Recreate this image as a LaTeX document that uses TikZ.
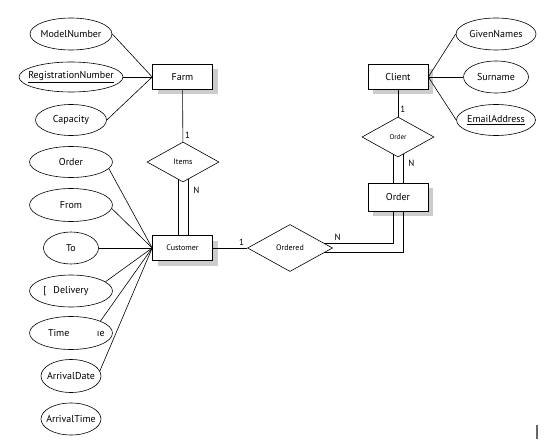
\documentclass[tikz,border=0pt]{standalone}
\usepackage{fontspec}
\setmainfont{PT Sans}
\usetikzlibrary{shapes.geometric,shadows,calc}

\newcommand{\attrtext}[1]{\makebox[0pt]{#1}}

\begin{document}
\begin{tikzpicture}[x=1pt,y=-1pt,line width=0.6pt]
\tikzstyle{every node}+=[inner sep=0pt]
\tikzstyle{entity}=[draw, fill=white, minimum width=60pt, minimum height=25pt, font=\fontsize{10}{12}\selectfont, drop shadow={shadow xshift=5pt, shadow yshift=-5pt, fill=black!40}]
\tikzstyle{attr}=[draw, ellipse, minimum height=32pt, font=\fontsize{10}{12}\selectfont]
\tikzstyle{rel}=[draw, diamond, aspect=1, fill=white, font=\fontsize{8}{10}\selectfont]
\tikzstyle{card}=[font=\fontsize{9}{11}\selectfont, inner sep=2pt]
\useasboundingbox (0,0) rectangle (546,441);
% entities
\node [entity] (farm) at (182.5,77) {Farm};
\node [entity, font=\fontsize{8}{10}\selectfont] (cust) at (182.5,248) {Customer};
\node [entity] (client) at (398,77) {Client};
\node [entity, minimum height=28pt] (order) at (398,197) {Order};
% relationships
\node [rel, minimum width=72pt, minimum height=40pt] (items) at (183,162) {\attrtext{Items}};
\node [rel, minimum width=85pt, minimum height=47pt] (ordered) at (290,248) {\attrtext{Ordered}};
\node [rel, minimum width=72pt, minimum height=40pt, font=\fontsize{7}{9}\selectfont] (orderrel) at (398,137) {\attrtext{Order}};
% farm attributes
\node [attr, minimum width=82pt] (modelno) at (71,34) {\attrtext{ModelNumber}};
\node [attr, minimum width=104pt, minimum height=30pt] (regno) at (71,77) {\attrtext{\underline{RegistrationNumber}}};
\node [attr, minimum width=71pt, minimum height=31pt] (capacity) at (71,120) {\attrtext{Capacity}};
% client attributes
\node [attr, minimum width=80pt] (given) at (496,34) {\attrtext{GivenNames}};
\node [attr, minimum width=65pt] (surname) at (496,77) {\attrtext{Surname}};
\node [attr, minimum width=79pt, minimum height=31pt] (email) at (496,120) {\attrtext{\underline{EmailAddress}}};
% customer attributes
\node [attr, minimum width=83pt, minimum height=31pt] (corder) at (71,162) {\attrtext{Order}};
\node [attr, minimum width=83pt, minimum height=33pt] (from) at (71,205) {\attrtext{From}};
\node [attr, minimum width=55pt] (to) at (71,248) {\attrtext{To}};
\node [attr, minimum width=83pt] (delivery) at (71,291) {\attrtext{\llap{[\hspace{7pt}}Delivery}};
\node [attr, minimum width=83pt, minimum height=33pt] (time) at (71,333) {\makebox[0pt][l]{\hspace*{-23pt}\rlap{Time}\hspace*{49pt}ıe}};
\node [attr, minimum width=60pt, minimum height=33pt] (arrdate) at (71,376) {\attrtext{ArrivalDate}};
\node [attr, minimum width=60pt] (arrtime) at (71,419) {\attrtext{ArrivalTime}};
% attribute links
\foreach \a in {modelno,regno,capacity}
  \draw (\a.east) -- (farm.west);
\foreach \a in {given,surname,email}
  \draw (\a.west) -- (client.east);
\foreach \a in {corder.-10,from.-5,to.east,delivery.15,time.22,arrdate.10}
  \draw (\a) -- (cust.west);
% relationship links
\draw (farm) -- node [card, pos=0.87, right] {1} (items);
\draw ($(items.south)!0.14!(items.west)$) coordinate (il) -- (il |- cust.north);
\draw ($(items.south)!0.14!(items.east)$) coordinate (ir) -- (ir |- cust.north)
  node [card, pos=0.2, right, xshift=3pt] {N};
\draw (client) -- node [card, pos=0.72, right] {1} (orderrel);
\draw ($(orderrel.south)!0.14!(orderrel.west)$) coordinate (ol) -- (ol |- order.north);
\draw ($(orderrel.south)!0.14!(orderrel.east)$) coordinate (or) -- (or |- order.north)
  node [card, pos=0.3, right, xshift=3pt] {N};
\draw (cust) -- node [card, pos=0.84, above] {1} (ordered);
\draw ($(ordered.east)!0.2!(ordered.north)$) coordinate (du) -| ([xshift=-5pt]order.south);
\draw ($(ordered.east)!0.2!(ordered.south)$) coordinate (dl) -| ([xshift=5pt]order.south);
\node [card, above right] at ([xshift=8pt]du) {N};
% stray mark
\draw [black!60, line width=1.5pt] (537,425) -- (537,439);
\end{tikzpicture}
\end{document}
